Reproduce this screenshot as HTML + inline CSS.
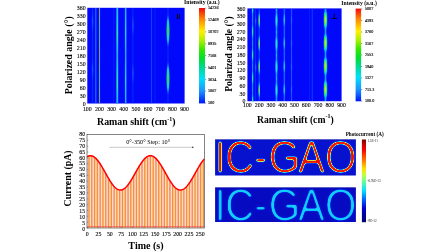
<!DOCTYPE html>
<html><head><meta charset="utf-8"><title>Figure</title>
<style>
html,body{margin:0;padding:0;background:#fff;width:448px;height:252px;overflow:hidden}
svg{display:block;position:absolute;left:0;top:0}
text{font-family:"Liberation Serif",serif;fill:#000}
.tk{font-size:5.9px;stroke:#000;stroke-width:0.1px}
.ct{font-size:4.2px;fill:#000;stroke:#000;stroke-width:0.12px}
.ti{font-weight:bold}
.ax{font-size:9.9px;font-weight:bold}
.sans{font-family:"Liberation Sans",sans-serif}
</style></head><body>
<svg width="448" height="252" viewBox="0 0 448 252">
<defs>
<linearGradient id="jet" x1="0" y1="0" x2="0" y2="1">
<stop offset="0" stop-color="#f00808"/>
<stop offset="0.107" stop-color="#ff8000"/>
<stop offset="0.245" stop-color="#fff000"/>
<stop offset="0.345" stop-color="#a8f000"/>
<stop offset="0.44" stop-color="#30e800"/>
<stop offset="0.53" stop-color="#00e030"/>
<stop offset="0.62" stop-color="#00d890"/>
<stop offset="0.74" stop-color="#00e0f8"/>
<stop offset="0.87" stop-color="#1c94ff"/>
<stop offset="0.95" stop-color="#0848ff"/>
<stop offset="1" stop-color="#0014fc"/>
</linearGradient>
<linearGradient id="jet2" x1="0" y1="0" x2="0" y2="1">
<stop offset="0" stop-color="#780000"/>
<stop offset="0.05" stop-color="#c00000"/>
<stop offset="0.12" stop-color="#f00000"/>
<stop offset="0.245" stop-color="#ff7000"/>
<stop offset="0.355" stop-color="#ffe000"/>
<stop offset="0.43" stop-color="#c0ff40"/>
<stop offset="0.5" stop-color="#70ff90"/>
<stop offset="0.62" stop-color="#00e0ff"/>
<stop offset="0.727" stop-color="#0060ff"/>
<stop offset="0.835" stop-color="#0000d0"/>
<stop offset="1" stop-color="#000070"/>
</linearGradient>

<linearGradient id="s_faint" x1="0" y1="0" x2="1" y2="0"><stop offset="0" stop-color="#0840ff" stop-opacity="0"/><stop offset="0.3" stop-color="#0840ff" stop-opacity="0.4"/><stop offset="0.5" stop-color="#1058ff" stop-opacity="0.8"/><stop offset="0.7" stop-color="#0840ff" stop-opacity="0.4"/><stop offset="1" stop-color="#0840ff" stop-opacity="0"/></linearGradient>
<linearGradient id="s_lb" x1="0" y1="0" x2="1" y2="0"><stop offset="0" stop-color="#1060ff" stop-opacity="0"/><stop offset="0.3" stop-color="#1060ff" stop-opacity="0.6"/><stop offset="0.5" stop-color="#2088ff" stop-opacity="1"/><stop offset="0.7" stop-color="#1060ff" stop-opacity="0.6"/><stop offset="1" stop-color="#1060ff" stop-opacity="0"/></linearGradient>
<linearGradient id="s_cy" x1="0" y1="0" x2="1" y2="0"><stop offset="0" stop-color="#1080ff" stop-opacity="0"/><stop offset="0.3" stop-color="#1080ff" stop-opacity="0.7"/><stop offset="0.5" stop-color="#20d0f0" stop-opacity="1"/><stop offset="0.7" stop-color="#1080ff" stop-opacity="0.7"/><stop offset="1" stop-color="#1080ff" stop-opacity="0"/></linearGradient>
<linearGradient id="v200" x1="0" y1="0" x2="0" y2="1">
<stop offset="0" stop-color="#cca428" stop-opacity="1"/>
<stop offset="0.1" stop-color="#b0c038" stop-opacity="1"/>
<stop offset="0.25" stop-color="#60d088" stop-opacity="1"/>
<stop offset="0.4" stop-color="#a8c038" stop-opacity="1"/>
<stop offset="0.5" stop-color="#cca428" stop-opacity="1"/>
<stop offset="0.6" stop-color="#a8c038" stop-opacity="1"/>
<stop offset="0.75" stop-color="#60d088" stop-opacity="1"/>
<stop offset="0.9" stop-color="#b0c038" stop-opacity="1"/>
<stop offset="1" stop-color="#cca428" stop-opacity="1"/>
</linearGradient>
<linearGradient id="v347" x1="0" y1="0" x2="0" y2="1">
<stop offset="0" stop-color="#20b8f8" stop-opacity="1"/>
<stop offset="0.2" stop-color="#20d8d0" stop-opacity="1"/>
<stop offset="0.28" stop-color="#30e0a0" stop-opacity="1"/>
<stop offset="0.4" stop-color="#20c0f0" stop-opacity="1"/>
<stop offset="0.5" stop-color="#20a8f8" stop-opacity="1"/>
<stop offset="0.7" stop-color="#20d8d0" stop-opacity="1"/>
<stop offset="0.8" stop-color="#30e0a0" stop-opacity="1"/>
<stop offset="0.92" stop-color="#20c0f0" stop-opacity="1"/>
<stop offset="1" stop-color="#20b0f8" stop-opacity="1"/>
</linearGradient>
<linearGradient id="v417" x1="0" y1="0" x2="0" y2="1">
<stop offset="0" stop-color="#20a8f8" stop-opacity="1"/>
<stop offset="0.25" stop-color="#20d0e8" stop-opacity="1"/>
<stop offset="0.5" stop-color="#20a0f8" stop-opacity="1"/>
<stop offset="0.75" stop-color="#20d0e8" stop-opacity="1"/>
<stop offset="1" stop-color="#20a8f8" stop-opacity="1"/>
</linearGradient>
<radialGradient id="b_gy" cx="0.5" cy="0.5" r="0.5">
<stop offset="0" stop-color="#98e820" stop-opacity="1"/>
<stop offset="0.2" stop-color="#40e030" stop-opacity="1"/>
<stop offset="0.42" stop-color="#10e090" stop-opacity="1"/>
<stop offset="0.6" stop-color="#10c8f0" stop-opacity="0.95"/>
<stop offset="0.8" stop-color="#1078ff" stop-opacity="0.6"/>
<stop offset="1" stop-color="#0040ff" stop-opacity="0"/>
</radialGradient>
<radialGradient id="b_g" cx="0.5" cy="0.5" r="0.5">
<stop offset="0" stop-color="#40e060" stop-opacity="1"/>
<stop offset="0.35" stop-color="#00e0c0" stop-opacity="0.95"/>
<stop offset="0.7" stop-color="#1080ff" stop-opacity="0.7"/>
<stop offset="1" stop-color="#0040ff" stop-opacity="0"/>
</radialGradient>
<radialGradient id="b_cy" cx="0.5" cy="0.5" r="0.5">
<stop offset="0" stop-color="#20e8d0" stop-opacity="1"/>
<stop offset="0.5" stop-color="#1098ff" stop-opacity="0.8"/>
<stop offset="1" stop-color="#0040ff" stop-opacity="0"/>
</radialGradient>
<radialGradient id="b_cg" cx="0.5" cy="0.5" r="0.5">
<stop offset="0" stop-color="#30e8a0" stop-opacity="1"/>
<stop offset="0.3" stop-color="#20e0e0" stop-opacity="1"/>
<stop offset="0.65" stop-color="#1090ff" stop-opacity="0.8"/>
<stop offset="1" stop-color="#0040ff" stop-opacity="0"/>
</radialGradient>
<radialGradient id="b_y" cx="0.5" cy="0.5" r="0.5">
<stop offset="0" stop-color="#d8e020" stop-opacity="1"/>
<stop offset="0.3" stop-color="#90e828" stop-opacity="1"/>
<stop offset="0.5" stop-color="#10e090" stop-opacity="1"/>
<stop offset="0.62" stop-color="#00d8e0" stop-opacity="0.95"/>
<stop offset="0.75" stop-color="#1080ff" stop-opacity="0.6"/>
<stop offset="1" stop-color="#0040ff" stop-opacity="0"/>
</radialGradient>
<radialGradient id="b_ol" cx="0.5" cy="0.5" r="0.5">
<stop offset="0" stop-color="#e09030" stop-opacity="1"/>
<stop offset="0.22" stop-color="#b8c040" stop-opacity="1"/>
<stop offset="0.4" stop-color="#60d070" stop-opacity="1"/>
<stop offset="0.55" stop-color="#10d0d0" stop-opacity="0.9"/>
<stop offset="0.8" stop-color="#1080ff" stop-opacity="0.6"/>
<stop offset="1" stop-color="#0040ff" stop-opacity="0"/>
</radialGradient>
<radialGradient id="b_fb" cx="0.5" cy="0.5" r="0.5">
<stop offset="0" stop-color="#2070ff" stop-opacity="0.9"/>
<stop offset="0.6" stop-color="#1050ff" stop-opacity="0.5"/>
<stop offset="1" stop-color="#0040ff" stop-opacity="0"/>
</radialGradient>
<filter id="er1" x="-5%" y="-5%" width="110%" height="110%"><feMorphology operator="erode" radius="1.2"/><feGaussianBlur stdDeviation="0.35"/></filter>
<filter id="er05" x="-5%" y="-5%" width="110%" height="110%"><feMorphology operator="erode" radius="0.6"/><feGaussianBlur stdDeviation="0.35"/></filter>
<filter id="bl" x="-5%" y="-5%" width="110%" height="110%"><feGaussianBlur stdDeviation="0.45"/></filter>
</defs>
<rect width="448" height="252" fill="#fff"/>

<rect x="87.3" y="7.8" width="97.30" height="95.70" fill="#0208fa"/>
<clipPath id="c1"><rect x="87.3" y="7.8" width="97.30" height="95.70"/></clipPath><g clip-path="url(#c1)">
<ellipse cx="92.60" cy="69.58" rx="1.4" ry="12" fill="url(#b_fb)" opacity="0.8"/>
<ellipse cx="92.60" cy="21.72" rx="1.4" ry="12" fill="url(#b_fb)" opacity="0.8"/>
<rect x="91.50" y="7.80" width="2.2" height="95.70" fill="url(#s_faint)" opacity="0.6"/>
<rect x="94.50" y="7.80" width="2.6" height="95.70" fill="url(#s_lb)" opacity="1"/>
<rect x="98.20" y="7.80" width="2.6" height="95.70" fill="url(#s_lb)" opacity="0.7"/>
<rect x="99.08" y="7.80" width="0.85" height="95.70" fill="url(#v200)" opacity="0.85"/>
<rect x="112.80" y="7.80" width="2" height="95.70" fill="url(#s_faint)" opacity="0.5"/>
<rect x="115.80" y="7.80" width="3" height="95.70" fill="url(#s_lb)" opacity="0.9"/>
<rect x="116.45" y="7.80" width="1.7" height="95.70" fill="url(#v347)" opacity="1"/>
<rect x="124.35" y="7.80" width="2.6" height="95.70" fill="url(#s_lb)" opacity="0.8"/>
<rect x="124.95" y="7.80" width="1.4" height="95.70" fill="url(#v417)" opacity="1"/>
<rect x="131.70" y="7.80" width="2.4" height="95.70" fill="url(#s_faint)" opacity="0.8"/>
<ellipse cx="132.90" cy="73.58" rx="1.3" ry="12" fill="url(#b_fb)" opacity="0.8"/>
<ellipse cx="132.90" cy="25.72" rx="1.3" ry="12" fill="url(#b_fb)" opacity="0.8"/>
<rect x="150.40" y="7.80" width="2.2" height="95.70" fill="url(#s_faint)" opacity="0.9"/>
<rect x="154.00" y="7.80" width="2.0" height="95.70" fill="url(#s_faint)" opacity="0.6"/>
<rect x="166.50" y="7.80" width="3" height="95.70" fill="url(#s_faint)" opacity="0.7"/>
<ellipse cx="168.00" cy="30.70" rx="2.0" ry="17.5" fill="url(#b_gy)" opacity="1"/>
<ellipse cx="168.00" cy="78.40" rx="2.0" ry="17.5" fill="url(#b_gy)" opacity="1"/>
</g>
<rect x="247.4" y="8.4" width="94.20" height="92.80" fill="#0208fa"/>
<clipPath id="c2"><rect x="247.4" y="8.4" width="94.20" height="92.80"/></clipPath><g clip-path="url(#c2)">
<rect x="251.40" y="8.40" width="2.4" height="92.80" fill="url(#s_cy)" opacity="0.75"/>
<ellipse cx="252.60" cy="101.20" rx="1.25" ry="9.5" fill="url(#b_g)" opacity="1"/>
<ellipse cx="252.60" cy="78.00" rx="1.25" ry="9.5" fill="url(#b_g)" opacity="1"/>
<ellipse cx="252.60" cy="54.80" rx="1.25" ry="9.5" fill="url(#b_g)" opacity="1"/>
<ellipse cx="252.60" cy="31.60" rx="1.25" ry="9.5" fill="url(#b_g)" opacity="1"/>
<ellipse cx="252.60" cy="8.40" rx="1.25" ry="9.5" fill="url(#b_g)" opacity="1"/>
<rect x="254.60" y="8.40" width="2.0" height="92.80" fill="url(#s_faint)" opacity="0.6"/>
<ellipse cx="255.60" cy="67.40" rx="1.3" ry="7" fill="url(#b_fb)" opacity="1"/>
<ellipse cx="255.60" cy="21.00" rx="1.3" ry="7" fill="url(#b_fb)" opacity="1"/>
<rect x="258.00" y="8.40" width="2.4" height="92.80" fill="url(#s_lb)" opacity="0.7"/>
<ellipse cx="259.20" cy="89.90" rx="1.15" ry="10" fill="url(#b_ol)" opacity="1"/>
<ellipse cx="259.20" cy="66.70" rx="1.15" ry="10" fill="url(#b_ol)" opacity="1"/>
<ellipse cx="259.20" cy="43.50" rx="1.15" ry="10" fill="url(#b_ol)" opacity="1"/>
<ellipse cx="259.20" cy="20.30" rx="1.15" ry="10" fill="url(#b_ol)" opacity="1"/>
<rect x="275.00" y="8.40" width="3.0" height="92.80" fill="url(#s_cy)" opacity="0.9"/>
<ellipse cx="276.50" cy="90.10" rx="1.6" ry="11.5" fill="url(#b_cg)" opacity="1"/>
<ellipse cx="276.50" cy="66.90" rx="1.6" ry="11.5" fill="url(#b_cg)" opacity="1"/>
<ellipse cx="276.50" cy="43.70" rx="1.6" ry="11.5" fill="url(#b_cg)" opacity="1"/>
<ellipse cx="276.50" cy="20.50" rx="1.6" ry="11.5" fill="url(#b_cg)" opacity="1"/>
<rect x="283.00" y="8.40" width="2.6" height="92.80" fill="url(#s_lb)" opacity="0.95"/>
<ellipse cx="284.30" cy="89.60" rx="1.35" ry="9.5" fill="url(#b_cy)" opacity="1"/>
<ellipse cx="284.30" cy="66.40" rx="1.35" ry="9.5" fill="url(#b_cy)" opacity="1"/>
<ellipse cx="284.30" cy="43.20" rx="1.35" ry="9.5" fill="url(#b_cy)" opacity="1"/>
<ellipse cx="284.30" cy="20.00" rx="1.35" ry="9.5" fill="url(#b_cy)" opacity="1"/>
<rect x="290.30" y="8.40" width="2.4" height="92.80" fill="url(#s_lb)" opacity="0.6"/>
<ellipse cx="291.50" cy="89.60" rx="1.3" ry="8" fill="url(#b_fb)" opacity="0.7"/>
<ellipse cx="291.50" cy="66.40" rx="1.3" ry="8" fill="url(#b_fb)" opacity="0.7"/>
<ellipse cx="291.50" cy="43.20" rx="1.3" ry="8" fill="url(#b_fb)" opacity="0.7"/>
<ellipse cx="291.50" cy="20.00" rx="1.3" ry="8" fill="url(#b_fb)" opacity="0.7"/>
<rect x="308.40" y="8.40" width="1.8" height="92.80" fill="url(#s_faint)" opacity="0.5"/>
<rect x="311.20" y="8.40" width="2" height="92.80" fill="url(#s_lb)" opacity="0.6"/>
<rect x="323.90" y="8.40" width="3.2" height="92.80" fill="url(#s_cy)" opacity="0.9"/>
<ellipse cx="325.50" cy="89.30" rx="2.5" ry="12.5" fill="url(#b_y)" opacity="1"/>
<ellipse cx="325.50" cy="66.10" rx="2.5" ry="12.5" fill="url(#b_y)" opacity="1"/>
<ellipse cx="325.50" cy="42.90" rx="2.5" ry="12.5" fill="url(#b_y)" opacity="1"/>
<ellipse cx="325.50" cy="19.70" rx="2.5" ry="12.5" fill="url(#b_y)" opacity="1"/>
</g>
<rect x="199" y="8" width="6" height="95.4" fill="url(#jet)"/>
<rect x="355.6" y="8.6" width="5.5" height="92.7" fill="url(#jet)"/>
<rect x="361.9" y="139.5" width="4.1" height="82.7" fill="url(#jet2)"/>
<line x1="205" x2="206.2" y1="8.20" y2="8.20" stroke="#333" stroke-width="0.5"/>
<text class="ct" x="208" y="9.45">14236</text>
<line x1="205" x2="206.2" y1="20.05" y2="20.05" stroke="#333" stroke-width="0.5"/>
<text class="ct" x="208" y="21.30">12469</text>
<line x1="205" x2="206.2" y1="31.90" y2="31.90" stroke="#333" stroke-width="0.5"/>
<text class="ct" x="208" y="33.15">10702</text>
<line x1="205" x2="206.2" y1="43.75" y2="43.75" stroke="#333" stroke-width="0.5"/>
<text class="ct" x="208" y="45.00">8935</text>
<line x1="205" x2="206.2" y1="55.60" y2="55.60" stroke="#333" stroke-width="0.5"/>
<text class="ct" x="208" y="56.85">7168</text>
<line x1="205" x2="206.2" y1="67.45" y2="67.45" stroke="#333" stroke-width="0.5"/>
<text class="ct" x="208" y="68.70">5401</text>
<line x1="205" x2="206.2" y1="79.30" y2="79.30" stroke="#333" stroke-width="0.5"/>
<text class="ct" x="208" y="80.55">3634</text>
<line x1="205" x2="206.2" y1="91.15" y2="91.15" stroke="#333" stroke-width="0.5"/>
<text class="ct" x="208" y="92.40">1867</text>
<line x1="205" x2="206.2" y1="103.00" y2="103.00" stroke="#333" stroke-width="0.5"/>
<text class="ct" x="208" y="104.25">100</text>
<line x1="361" x2="362.2" y1="9.00" y2="9.00" stroke="#333" stroke-width="0.5"/>
<text class="ct" x="364.9" y="10.25">5007</text>
<line x1="361" x2="362.2" y1="20.50" y2="20.50" stroke="#333" stroke-width="0.5"/>
<text class="ct" x="364.9" y="21.75">4393</text>
<line x1="361" x2="362.2" y1="32.00" y2="32.00" stroke="#333" stroke-width="0.5"/>
<text class="ct" x="364.9" y="33.25">3780</text>
<line x1="361" x2="362.2" y1="43.50" y2="43.50" stroke="#333" stroke-width="0.5"/>
<text class="ct" x="364.9" y="44.75">3167</text>
<line x1="361" x2="362.2" y1="55.00" y2="55.00" stroke="#333" stroke-width="0.5"/>
<text class="ct" x="364.9" y="56.25">2553</text>
<line x1="361" x2="362.2" y1="66.50" y2="66.50" stroke="#333" stroke-width="0.5"/>
<text class="ct" x="364.9" y="67.75">1940</text>
<line x1="361" x2="362.2" y1="78.00" y2="78.00" stroke="#333" stroke-width="0.5"/>
<text class="ct" x="364.9" y="79.25">1327</text>
<line x1="361" x2="362.2" y1="89.50" y2="89.50" stroke="#333" stroke-width="0.5"/>
<text class="ct" x="364.9" y="90.75">713.3</text>
<line x1="361" x2="362.2" y1="101.00" y2="101.00" stroke="#333" stroke-width="0.5"/>
<text class="ct" x="364.9" y="102.25">100.0</text>
<text class="ct" style="font-size:3.3px;stroke:none;fill:#222" x="367.4" y="142.30">1.5E-11</text>
<text class="ct" style="font-size:3.3px;stroke:none;fill:#222" x="367.4" y="182.10">-6.95E-13</text>
<text class="ct" style="font-size:3.3px;stroke:none;fill:#222" x="367.4" y="221.90">-9E-12</text>
<text class="ti" x="184" y="4.2" style="font-size:5.7px">Intensity (a.u.)</text>
<text class="ti" x="341.3" y="5" style="font-size:5.7px">Intensity (a.u.)</text>
<text class="ti" x="345.7" y="135.5" style="font-size:5.18px">Photocurrent (A)</text>
<text class="tk" text-anchor="end" x="85.6" y="105.60">0</text>
<text class="tk" text-anchor="end" x="85.6" y="97.62">30</text>
<text class="tk" text-anchor="end" x="85.6" y="89.65">60</text>
<text class="tk" text-anchor="end" x="85.6" y="81.67">90</text>
<text class="tk" text-anchor="end" x="85.6" y="73.70">120</text>
<text class="tk" text-anchor="end" x="85.6" y="65.72">150</text>
<text class="tk" text-anchor="end" x="85.6" y="57.75">180</text>
<text class="tk" text-anchor="end" x="85.6" y="49.77">210</text>
<text class="tk" text-anchor="end" x="85.6" y="41.80">240</text>
<text class="tk" text-anchor="end" x="85.6" y="33.82">270</text>
<text class="tk" text-anchor="end" x="85.6" y="25.85">300</text>
<text class="tk" text-anchor="end" x="85.6" y="17.88">330</text>
<text class="tk" text-anchor="end" x="85.6" y="9.90">360</text>
<text class="tk" text-anchor="middle" x="87.30" y="110.6">100</text>
<text class="tk" text-anchor="middle" x="99.46" y="110.6">200</text>
<text class="tk" text-anchor="middle" x="111.62" y="110.6">300</text>
<text class="tk" text-anchor="middle" x="123.79" y="110.6">400</text>
<text class="tk" text-anchor="middle" x="135.95" y="110.6">500</text>
<text class="tk" text-anchor="middle" x="148.11" y="110.6">600</text>
<text class="tk" text-anchor="middle" x="160.27" y="110.6">700</text>
<text class="tk" text-anchor="middle" x="172.44" y="110.6">800</text>
<text class="tk" text-anchor="middle" x="184.60" y="110.6">900</text>
<text class="tk" text-anchor="end" x="245.5" y="103.30">0</text>
<text class="tk" text-anchor="end" x="245.5" y="95.57">30</text>
<text class="tk" text-anchor="end" x="245.5" y="87.83">60</text>
<text class="tk" text-anchor="end" x="245.5" y="80.10">90</text>
<text class="tk" text-anchor="end" x="245.5" y="72.37">120</text>
<text class="tk" text-anchor="end" x="245.5" y="64.63">150</text>
<text class="tk" text-anchor="end" x="245.5" y="56.90">180</text>
<text class="tk" text-anchor="end" x="245.5" y="49.17">210</text>
<text class="tk" text-anchor="end" x="245.5" y="41.43">240</text>
<text class="tk" text-anchor="end" x="245.5" y="33.70">270</text>
<text class="tk" text-anchor="end" x="245.5" y="25.97">300</text>
<text class="tk" text-anchor="end" x="245.5" y="18.23">330</text>
<text class="tk" text-anchor="end" x="245.5" y="10.50">360</text>
<text class="tk" text-anchor="middle" x="247.40" y="107.3">100</text>
<text class="tk" text-anchor="middle" x="259.18" y="107.3">200</text>
<text class="tk" text-anchor="middle" x="270.95" y="107.3">300</text>
<text class="tk" text-anchor="middle" x="282.73" y="107.3">400</text>
<text class="tk" text-anchor="middle" x="294.50" y="107.3">500</text>
<text class="tk" text-anchor="middle" x="306.28" y="107.3">600</text>
<text class="tk" text-anchor="middle" x="318.05" y="107.3">700</text>
<text class="tk" text-anchor="middle" x="329.83" y="107.3">800</text>
<text class="tk" text-anchor="middle" x="341.60" y="107.3">900</text>
<text class="ax" text-anchor="middle" x="136.3" y="125.3">Raman shift (cm<tspan dy="-4.4" style="font-size:6px">-1</tspan><tspan dy="4.4">)</tspan></text>
<text class="ax" text-anchor="middle" x="295.3" y="122.6" style="font-size:9.65px">Raman shift (cm<tspan dy="-4.4" style="font-size:6px">-1</tspan><tspan dy="4.4">)</tspan></text>
<text class="ax" text-anchor="middle" transform="translate(72,55.3) rotate(-90)">Polarized angle (°)</text>
<text class="ax" text-anchor="middle" transform="translate(232.3,54.1) rotate(-90)" style="font-size:9.55px">Polarized angle (°)</text>
<text x="176.6" y="18.7" class="sans" style="font-size:7.6px;font-weight:bold" textLength="3.8" lengthAdjust="spacingAndGlyphs">II</text>
<text x="334.15" y="18.8" text-anchor="middle" style="font-family:'DejaVu Sans',sans-serif;font-size:7.6px;font-weight:bold">⊥</text>
<clipPath id="c3"><polygon points="87.0,228.0 87.00,156.78 87.49,156.49 87.98,156.25 88.47,156.05 88.96,155.90 89.45,155.79 89.94,155.72 90.43,155.70 90.92,155.73 91.41,155.80 91.90,155.91 92.39,156.07 92.88,156.27 93.36,156.52 93.85,156.81 94.34,157.14 94.83,157.52 95.32,157.93 95.81,158.38 96.30,158.87 96.79,159.40 97.28,159.96 97.77,160.56 98.26,161.19 98.75,161.85 99.24,162.54 99.73,163.25 100.22,163.99 100.71,164.76 101.20,165.54 101.69,166.35 102.18,167.17 102.67,168.01 103.16,168.86 103.65,169.72 104.14,170.59 104.62,171.46 105.11,172.34 105.60,173.22 106.09,174.09 106.58,174.97 107.07,175.84 107.56,176.70 108.05,177.55 108.54,178.39 109.03,179.22 109.52,180.02 110.01,180.81 110.50,181.58 110.99,182.33 111.48,183.05 111.97,183.74 112.46,184.40 112.95,185.04 113.44,185.64 113.93,186.21 114.42,186.74 114.91,187.24 115.40,187.70 115.89,188.12 116.38,188.50 116.86,188.84 117.35,189.13 117.84,189.39 118.33,189.60 118.82,189.77 119.31,189.89 119.80,189.97 120.29,190.00 120.78,189.99 121.27,189.93 121.76,189.83 122.25,189.68 122.74,189.49 123.23,189.25 123.72,188.97 124.21,188.65 124.70,188.29 125.19,187.89 125.68,187.45 126.17,186.97 126.66,186.45 127.15,185.90 127.64,185.31 128.12,184.69 128.61,184.04 129.10,183.36 129.59,182.65 130.08,181.91 130.57,181.15 131.06,180.37 131.55,179.58 132.04,178.76 132.53,177.92 133.02,177.08 133.51,176.22 134.00,175.36 134.49,174.48 134.98,173.61 135.47,172.73 135.96,171.85 136.45,170.97 136.94,170.10 137.43,169.24 137.92,168.38 138.41,167.54 138.90,166.71 139.39,165.90 139.88,165.10 140.36,164.33 140.85,163.58 141.34,162.85 141.83,162.15 142.32,161.48 142.81,160.83 143.30,160.22 143.79,159.65 144.28,159.10 144.77,158.59 145.26,158.12 145.75,157.69 146.24,157.30 146.73,156.95 147.22,156.64 147.71,156.38 148.20,156.15 148.69,155.98 149.18,155.84 149.67,155.75 150.16,155.71 150.65,155.71 151.14,155.75 151.62,155.84 152.11,155.98 152.60,156.15 153.09,156.38 153.58,156.64 154.07,156.95 154.56,157.30 155.05,157.70 155.54,158.13 156.03,158.60 156.52,159.10 157.01,159.65 157.50,160.23 157.99,160.84 158.48,161.48 158.97,162.15 159.46,162.85 159.95,163.58 160.44,164.33 160.93,165.11 161.42,165.90 161.91,166.71 162.40,167.54 162.89,168.39 163.38,169.24 163.86,170.10 164.35,170.98 164.84,171.85 165.33,172.73 165.82,173.61 166.31,174.49 166.80,175.36 167.29,176.23 167.78,177.08 168.27,177.93 168.76,178.76 169.25,179.58 169.74,180.38 170.23,181.16 170.72,181.92 171.21,182.65 171.70,183.36 172.19,184.04 172.68,184.69 173.17,185.31 173.66,185.90 174.15,186.45 174.64,186.97 175.12,187.45 175.61,187.89 176.10,188.29 176.59,188.66 177.08,188.98 177.57,189.25 178.06,189.49 178.55,189.68 179.04,189.83 179.53,189.93 180.02,189.99 180.51,190.00 181.00,189.97 181.49,189.89 181.98,189.77 182.47,189.60 182.96,189.39 183.45,189.13 183.94,188.84 184.43,188.50 184.92,188.12 185.41,187.70 185.90,187.24 186.39,186.74 186.88,186.21 187.36,185.64 187.85,185.03 188.34,184.40 188.83,183.74 189.32,183.04 189.81,182.32 190.30,181.58 190.79,180.81 191.28,180.02 191.77,179.21 192.26,178.39 192.75,177.55 193.24,176.70 193.73,175.84 194.22,174.97 194.71,174.09 195.20,173.21 195.69,172.33 196.18,171.46 196.67,170.58 197.16,169.71 197.65,168.85 198.14,168.00 198.62,167.17 199.11,166.35 199.60,165.54 200.09,164.76 200.58,163.99 201.07,163.25 201.56,162.53 202.05,161.85 202.54,161.19 203.03,160.56 203.52,159.96 204.01,159.40 204.50,158.87 204.5,228.0"/></clipPath>
<g clip-path="url(#c3)"><rect x="87.0" y="134.5" width="117.50" height="93.50" fill="#ffd6dc"/>
<path d="M89.00 134.5V228.0M91.79 134.5V228.0M94.58 134.5V228.0M97.37 134.5V228.0M100.16 134.5V228.0M102.95 134.5V228.0M105.74 134.5V228.0M108.53 134.5V228.0M111.32 134.5V228.0M114.11 134.5V228.0M116.90 134.5V228.0M119.69 134.5V228.0M122.48 134.5V228.0M125.27 134.5V228.0M128.06 134.5V228.0M130.85 134.5V228.0M133.64 134.5V228.0M136.43 134.5V228.0M139.22 134.5V228.0M142.01 134.5V228.0M144.80 134.5V228.0M147.59 134.5V228.0M150.38 134.5V228.0M153.17 134.5V228.0M155.96 134.5V228.0M158.75 134.5V228.0M161.54 134.5V228.0M164.33 134.5V228.0M167.12 134.5V228.0M169.91 134.5V228.0M172.70 134.5V228.0M175.49 134.5V228.0M178.28 134.5V228.0M181.07 134.5V228.0M183.86 134.5V228.0M186.65 134.5V228.0M189.44 134.5V228.0M192.23 134.5V228.0M195.02 134.5V228.0M197.81 134.5V228.0M200.60 134.5V228.0M203.39 134.5V228.0" stroke="#f2932c" stroke-width="1.35" fill="none"/></g>
<line x1="87.0" x2="204.5" y1="226.5" y2="226.5" stroke="#ff4848" stroke-width="0.6"/>
<polyline points="87.00,156.78 87.49,156.49 87.98,156.25 88.47,156.05 88.96,155.90 89.45,155.79 89.94,155.72 90.43,155.70 90.92,155.73 91.41,155.80 91.90,155.91 92.39,156.07 92.88,156.27 93.36,156.52 93.85,156.81 94.34,157.14 94.83,157.52 95.32,157.93 95.81,158.38 96.30,158.87 96.79,159.40 97.28,159.96 97.77,160.56 98.26,161.19 98.75,161.85 99.24,162.54 99.73,163.25 100.22,163.99 100.71,164.76 101.20,165.54 101.69,166.35 102.18,167.17 102.67,168.01 103.16,168.86 103.65,169.72 104.14,170.59 104.62,171.46 105.11,172.34 105.60,173.22 106.09,174.09 106.58,174.97 107.07,175.84 107.56,176.70 108.05,177.55 108.54,178.39 109.03,179.22 109.52,180.02 110.01,180.81 110.50,181.58 110.99,182.33 111.48,183.05 111.97,183.74 112.46,184.40 112.95,185.04 113.44,185.64 113.93,186.21 114.42,186.74 114.91,187.24 115.40,187.70 115.89,188.12 116.38,188.50 116.86,188.84 117.35,189.13 117.84,189.39 118.33,189.60 118.82,189.77 119.31,189.89 119.80,189.97 120.29,190.00 120.78,189.99 121.27,189.93 121.76,189.83 122.25,189.68 122.74,189.49 123.23,189.25 123.72,188.97 124.21,188.65 124.70,188.29 125.19,187.89 125.68,187.45 126.17,186.97 126.66,186.45 127.15,185.90 127.64,185.31 128.12,184.69 128.61,184.04 129.10,183.36 129.59,182.65 130.08,181.91 130.57,181.15 131.06,180.37 131.55,179.58 132.04,178.76 132.53,177.92 133.02,177.08 133.51,176.22 134.00,175.36 134.49,174.48 134.98,173.61 135.47,172.73 135.96,171.85 136.45,170.97 136.94,170.10 137.43,169.24 137.92,168.38 138.41,167.54 138.90,166.71 139.39,165.90 139.88,165.10 140.36,164.33 140.85,163.58 141.34,162.85 141.83,162.15 142.32,161.48 142.81,160.83 143.30,160.22 143.79,159.65 144.28,159.10 144.77,158.59 145.26,158.12 145.75,157.69 146.24,157.30 146.73,156.95 147.22,156.64 147.71,156.38 148.20,156.15 148.69,155.98 149.18,155.84 149.67,155.75 150.16,155.71 150.65,155.71 151.14,155.75 151.62,155.84 152.11,155.98 152.60,156.15 153.09,156.38 153.58,156.64 154.07,156.95 154.56,157.30 155.05,157.70 155.54,158.13 156.03,158.60 156.52,159.10 157.01,159.65 157.50,160.23 157.99,160.84 158.48,161.48 158.97,162.15 159.46,162.85 159.95,163.58 160.44,164.33 160.93,165.11 161.42,165.90 161.91,166.71 162.40,167.54 162.89,168.39 163.38,169.24 163.86,170.10 164.35,170.98 164.84,171.85 165.33,172.73 165.82,173.61 166.31,174.49 166.80,175.36 167.29,176.23 167.78,177.08 168.27,177.93 168.76,178.76 169.25,179.58 169.74,180.38 170.23,181.16 170.72,181.92 171.21,182.65 171.70,183.36 172.19,184.04 172.68,184.69 173.17,185.31 173.66,185.90 174.15,186.45 174.64,186.97 175.12,187.45 175.61,187.89 176.10,188.29 176.59,188.66 177.08,188.98 177.57,189.25 178.06,189.49 178.55,189.68 179.04,189.83 179.53,189.93 180.02,189.99 180.51,190.00 181.00,189.97 181.49,189.89 181.98,189.77 182.47,189.60 182.96,189.39 183.45,189.13 183.94,188.84 184.43,188.50 184.92,188.12 185.41,187.70 185.90,187.24 186.39,186.74 186.88,186.21 187.36,185.64 187.85,185.03 188.34,184.40 188.83,183.74 189.32,183.04 189.81,182.32 190.30,181.58 190.79,180.81 191.28,180.02 191.77,179.21 192.26,178.39 192.75,177.55 193.24,176.70 193.73,175.84 194.22,174.97 194.71,174.09 195.20,173.21 195.69,172.33 196.18,171.46 196.67,170.58 197.16,169.71 197.65,168.85 198.14,168.00 198.62,167.17 199.11,166.35 199.60,165.54 200.09,164.76 200.58,163.99 201.07,163.25 201.56,162.53 202.05,161.85 202.54,161.19 203.03,160.56 203.52,159.96 204.01,159.40 204.50,158.87" fill="none" stroke="#ff0000" stroke-width="1.5" stroke-linejoin="round"/>
<rect x="87.0" y="134.5" width="117.50" height="93.50" fill="none" stroke="#666" stroke-width="0.8"/>
<path d="M87.0 228.00h1.3M87.0 222.16h1.3M87.0 216.31h1.3M87.0 210.47h1.3M87.0 204.62h1.3M87.0 198.78h1.3M87.0 192.93h1.3M87.0 187.09h1.3M87.0 181.24h1.3M87.0 175.39h1.3M87.0 169.55h1.3M87.0 163.70h1.3M87.0 157.86h1.3M87.0 152.01h1.3M87.0 146.17h1.3M87.0 140.32h1.3M87.0 134.48h1.3M87.25 228.0v-1.3M98.55 228.0v-1.3M109.85 228.0v-1.3M121.15 228.0v-1.3M132.45 228.0v-1.3M143.75 228.0v-1.3M155.05 228.0v-1.3M166.35 228.0v-1.3M177.65 228.0v-1.3M188.95 228.0v-1.3M200.25 228.0v-1.3" stroke="#555" stroke-width="0.5" fill="none"/>
<text class="tk" text-anchor="end" x="85.2" y="230.80">0</text>
<text class="tk" text-anchor="end" x="85.2" y="224.86">5</text>
<text class="tk" text-anchor="end" x="85.2" y="218.92">10</text>
<text class="tk" text-anchor="end" x="85.2" y="212.99">15</text>
<text class="tk" text-anchor="end" x="85.2" y="207.05">20</text>
<text class="tk" text-anchor="end" x="85.2" y="201.11">25</text>
<text class="tk" text-anchor="end" x="85.2" y="195.17">30</text>
<text class="tk" text-anchor="end" x="85.2" y="189.24">35</text>
<text class="tk" text-anchor="end" x="85.2" y="183.30">40</text>
<text class="tk" text-anchor="end" x="85.2" y="177.36">45</text>
<text class="tk" text-anchor="end" x="85.2" y="171.42">50</text>
<text class="tk" text-anchor="end" x="85.2" y="165.49">55</text>
<text class="tk" text-anchor="end" x="85.2" y="159.55">60</text>
<text class="tk" text-anchor="end" x="85.2" y="153.61">65</text>
<text class="tk" text-anchor="end" x="85.2" y="147.67">70</text>
<text class="tk" text-anchor="end" x="85.2" y="141.74">75</text>
<text class="tk" text-anchor="end" x="85.2" y="135.80">80</text>
<text class="tk" text-anchor="middle" x="87.25" y="235.7">0</text>
<text class="tk" text-anchor="middle" x="98.55" y="235.7">25</text>
<text class="tk" text-anchor="middle" x="109.85" y="235.7">50</text>
<text class="tk" text-anchor="middle" x="121.15" y="235.7">75</text>
<text class="tk" text-anchor="middle" x="132.45" y="235.7">100</text>
<text class="tk" text-anchor="middle" x="143.75" y="235.7">125</text>
<text class="tk" text-anchor="middle" x="155.05" y="235.7">150</text>
<text class="tk" text-anchor="middle" x="166.35" y="235.7">175</text>
<text class="tk" text-anchor="middle" x="177.65" y="235.7">200</text>
<text class="tk" text-anchor="middle" x="188.95" y="235.7">225</text>
<text class="tk" text-anchor="middle" x="200.25" y="235.7">250</text>
<text class="ax" text-anchor="middle" transform="translate(71.3,178.4) rotate(-90)" style="font-size:9.9px">Current (pA)</text>
<text class="ax" text-anchor="middle" x="146" y="249" style="font-size:10.05px">Time (s)</text>
<text x="148.2" y="144.3" text-anchor="middle" style="font-size:6.2px">0°-350° Step: 10°</text>
<line x1="109.4" x2="192" y1="147.3" y2="147.3" stroke="#777" stroke-width="0.4"/>
<path d="M194 147.2l-1.9 -0.8v1.6z" fill="#000"/>
<defs>
<filter id="fhot" x="0" y="0" width="1" height="1" color-interpolation-filters="sRGB"><feGaussianBlur stdDeviation="1.0"/><feComponentTransfer><feFuncR type="table" tableValues="0.031 0.031 0.031 0.031 0.031 0.031 0.031 0.031 0.032 0.034 0.035 0.036 0.038 0.039 0.051 0.067 0.082 0.128 0.296 0.480 0.725 0.928 0.961 0.993 0.987 0.971 0.959 0.956 0.952 0.949 0.945 0.942 0.938 0.935 0.931 0.928 0.924 0.920 0.917 0.913 0.910"/><feFuncG type="table" tableValues="0.071 0.073 0.075 0.077 0.079 0.081 0.084 0.086 0.101 0.119 0.138 0.156 0.174 0.192 0.309 0.451 0.593 0.729 0.847 0.941 0.941 0.912 0.765 0.618 0.424 0.218 0.092 0.088 0.084 0.079 0.075 0.071 0.066 0.062 0.058 0.053 0.049 0.044 0.040 0.036 0.031"/><feFuncB type="table" tableValues="0.808 0.813 0.819 0.824 0.830 0.835 0.841 0.846 0.858 0.871 0.884 0.897 0.910 0.923 0.938 0.953 0.968 0.949 0.792 0.612 0.337 0.108 0.059 0.010 0.013 0.029 0.039 0.038 0.038 0.037 0.037 0.036 0.036 0.035 0.035 0.034 0.034 0.033 0.032 0.032 0.031"/></feComponentTransfer></filter>
<filter id="fcold" x="0" y="0" width="1" height="1" color-interpolation-filters="sRGB"><feGaussianBlur stdDeviation="1.0"/><feComponentTransfer><feFuncR type="table" tableValues="0.024 0.024 0.024 0.024 0.024 0.024 0.024 0.024 0.024 0.024 0.024 0.024 0.024 0.026 0.029 0.031 0.034 0.037 0.039 0.043 0.047 0.051 0.055 0.057 0.059 0.061 0.063 0.064 0.065 0.066 0.068 0.069 0.070 0.071 0.072 0.073 0.074 0.075 0.076 0.077 0.078"/><feFuncG type="table" tableValues="0.047 0.048 0.050 0.051 0.052 0.054 0.055 0.056 0.058 0.059 0.060 0.061 0.063 0.088 0.114 0.139 0.165 0.190 0.216 0.309 0.402 0.495 0.588 0.648 0.708 0.768 0.804 0.806 0.807 0.809 0.810 0.811 0.813 0.814 0.815 0.817 0.818 0.819 0.821 0.822 0.824"/><feFuncB type="table" tableValues="0.761 0.764 0.767 0.771 0.774 0.777 0.780 0.784 0.787 0.790 0.793 0.797 0.800 0.821 0.842 0.863 0.884 0.905 0.925 0.939 0.953 0.967 0.980 0.983 0.985 0.987 0.988 0.988 0.988 0.988 0.988 0.988 0.988 0.988 0.988 0.988 0.988 0.988 0.988 0.988 0.988"/></feComponentTransfer></filter>
</defs>
<clipPath id="ci1"><rect x="215.1" y="139.4" width="140.8" height="36.00"/></clipPath>
<g clip-path="url(#ci1)"><g filter="url(#fhot)"><rect x="205" y="129.4" width="161" height="56.00" fill="#000"/>
<text transform="translate(214.4,173.3) scale(0.877,1)" class="sans" x="0 12.3 45.2 62 95.2 126" y="0" style="font-size:46px;fill:#fff;stroke:#000;stroke-width:1.0px">IC-GAO</text></g>
<rect x="215.1" y="139.4" width="140.8" height="0.7" fill="#040a90"/></g>
<clipPath id="ci2"><rect x="215.1" y="187.4" width="140.8" height="34.60"/></clipPath>
<g clip-path="url(#ci2)"><g filter="url(#fcold)"><rect x="205" y="177.4" width="161" height="54.60" fill="#000"/>
<text transform="translate(214.4,221.0) scale(0.877,1)" class="sans" x="0 12.3 45.2 62 95.2 126" y="0" style="font-size:46px;fill:#fff;stroke:#000;stroke-width:1.0px">IC-GAO</text></g>
<rect x="215.1" y="187.4" width="140.8" height="0.7" fill="#040a90"/></g>
</svg></body></html>
